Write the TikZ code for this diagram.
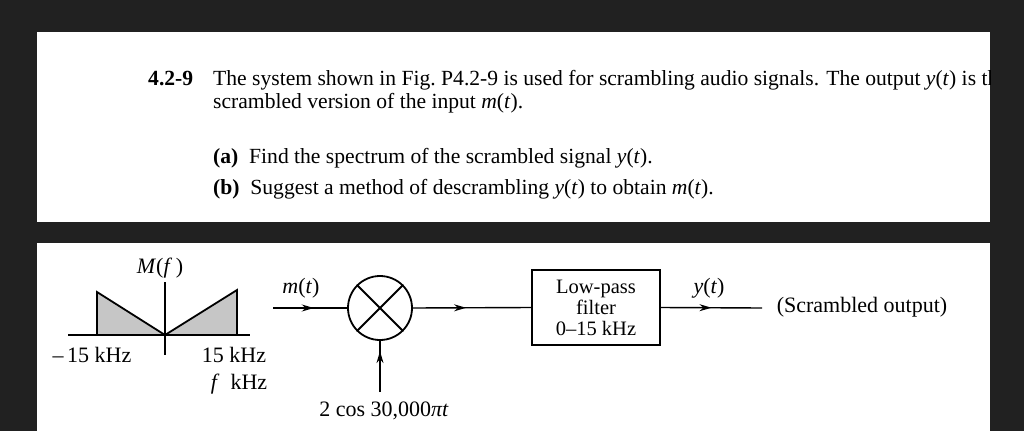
\documentclass[tikz,border=0pt]{standalone}
\usepackage{fontspec}
\setmainfont{Liberation Serif}
\usetikzlibrary{decorations.markings,arrows.meta}
\newcommand{\vi}[1]{\textit{#1}}
\begin{document}
\begin{tikzpicture}[x=1pt,y=-1pt,
  txt/.style={inner sep=0pt,font=\fontsize{21.6}{24}\selectfont},
  fig/.style={inner sep=0pt,font=\fontsize{22}{22}\selectfont},
  midarrow/.style={line width=1.4pt,postaction={decorate},decoration={markings,mark=at position #1 with {\arrow{Stealth[length=12pt,width=7pt]}}}}]
\fill[black!87] (0,0) rectangle (1024,431);
\useasboundingbox (0,0) rectangle (1024,431);
\fill[white] (37,32) rectangle (990,222);
\fill[white] (37,243) rectangle (990,431);
% question text
\begin{scope}
\clip (37,32) rectangle (990,222);
\node[txt,anchor=base west] (num) at (148,85) {\textbf{4.2-9}};
\node[txt,anchor=base west] (l1) at (213,85) {The system shown in Fig.\ P4.2-9 is used for scrambling audio signals. The output \vi{y}(\vi{t}) is the};
\end{scope}
\node[txt,anchor=base west] (l2) at (213,108) {scrambled version of the input \vi{m}(\vi{t}).};
\node[txt,anchor=base west] (qa) at (213,163) {\textbf{(a)}\ \ Find the spectrum of the scrambled signal \vi{y}(\vi{t}).};
\node[txt,anchor=base west] (qb) at (213,194) {\textbf{(b)}\ \ Suggest a method of descrambling \vi{y}(\vi{t}) to obtain \vi{m}(\vi{t}).};
% spectrum
\fill[gray!45] (97,292) -- (97,335) -- (165,335) -- cycle;
\fill[gray!45] (165,335) -- (237,290) -- (237,335) -- cycle;
\draw[line width=1.8pt] (97,335) -- (97,292) -- (165,335) -- (237,290) -- (237,335);
\draw[line width=1.4pt] (68,335) -- (250,335);
\draw[line width=1.4pt] (165,282) -- (165,355);
\node[fig] (Mf) at (160,268) {\vi{M}(\vi{f}\,)};
\node[fig] (lm) at (92,355) {--\,15 kHz};
\node[fig] (lp) at (234,355) {15 kHz};
\node[fig] (lf) at (239,384) {\vi{f} \ kHz};
% block diagram
\node[draw,line width=1.8pt,circle,minimum size=64pt,inner sep=0pt] (mix) at (380,308) {};
\draw[line width=1.8pt] (mix.45) -- (mix.225) (mix.135) -- (mix.315);
\coordinate (in) at (273,308);
\draw[midarrow=0.55] (in) -- (mix.west);
\node[fig] (mt) at (301,288) {\vi{m}(\vi{t})};
\coordinate (cs) at (380,392);
\draw[midarrow=0.8] (cs) -- (mix.south);
\node[fig] (cosl) at (384,411) {2 cos 30,000\vi{πt}};
\node[draw,line width=1.8pt,minimum width=128pt,minimum height=75pt,inner sep=0pt,align=center,font=\fontsize{20.5}{21}\selectfont] (lpf) at (596,307.5) {Low-pass\\filter\\0--15 kHz};
\draw[midarrow=0.45] (mix.east) -- (lpf.west);
\coordinate (out) at (762,308);
\draw[midarrow=0.5] (lpf.east) -- (out);
\node[fig] (yt) at (709,288) {\vi{y}(\vi{t})};
\node[fig] (so) at (862,307) {(Scrambled output)};
\end{tikzpicture}
\end{document}
